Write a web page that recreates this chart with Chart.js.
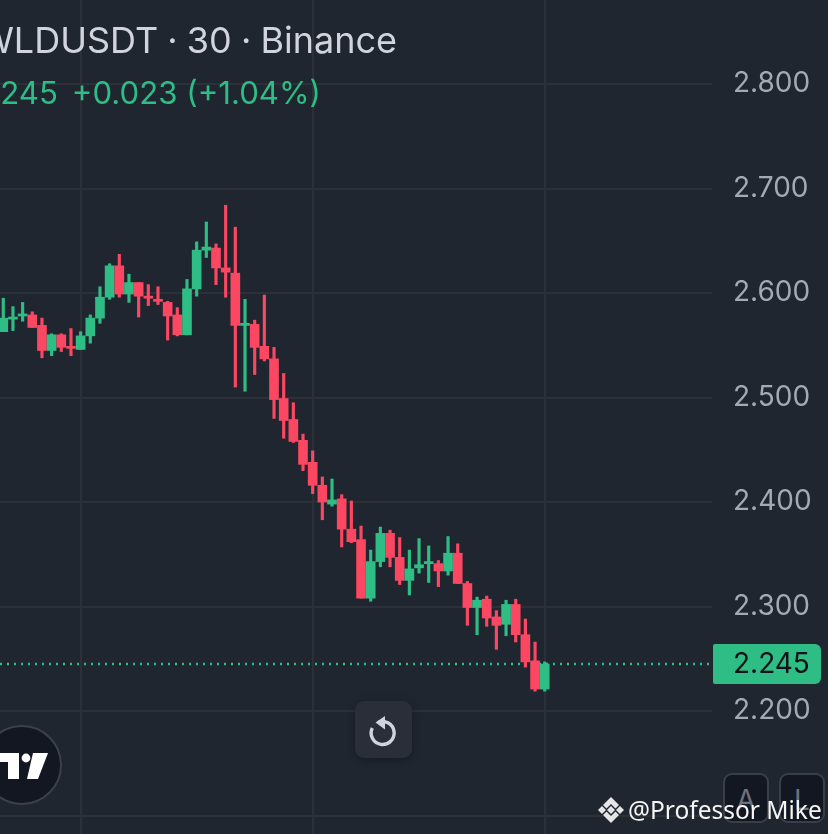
<!DOCTYPE html>
<html>
<head>
<meta charset="utf-8">
<script src="https://cdn.jsdelivr.net/npm/chart.js@4/dist/chart.umd.min.js"></script>
<style>
html,body{margin:0;padding:0;background:#1f2630;width:828px;height:834px;overflow:hidden}
#wrap{position:relative;width:828px;height:834px;overflow:hidden}
canvas{position:absolute;left:0;top:0}
.t{position:absolute;white-space:nowrap;font-family:Inter,sans-serif}
#title{right:431px;top:19px;font-size:36px;line-height:42px;color:#d1d4dc;word-spacing:-1px}
#legend{right:507px;top:75px;font-size:31.2px;line-height:36px;color:#2ebd85}
#legend span{margin-left:14px}
.btn{position:absolute;box-sizing:border-box;background:#131722;border:2px solid #3a3e48;border-radius:9px;top:773px;height:50px;color:#6e727c;font:28px/50px Inter,sans-serif;text-align:center}
#reset{position:absolute;left:355px;top:701px;width:57px;height:57px;border-radius:9px;background:#2a2e39;box-shadow:0 2px 8px rgba(0,0,0,.3)}
#wm{left:628px;top:792px;font-family:"Noto Sans",sans-serif;font-size:24.5px;line-height:36px;color:#f5f5f5}
svg{position:absolute;left:0;top:0}
</style>
</head>
<body>
<div id="wrap">
<canvas id="c" width="828" height="834"></canvas>
<div class="t" id="title">WLDUSDT · 30 · Binance</div>
<div class="t" id="legend">245<span>+0.023</span> (+1.04%)</div>
<div id="reset"></div>
<div class="btn" style="left:723px;width:46px">A</div>
<div class="btn" style="left:779px;width:46px">L</div>
<svg width="828" height="834" viewBox="0 0 828 834">
  <circle cx="22" cy="765" r="39" fill="#131722" stroke="#3c404a" stroke-width="2"/>
  <path d="M0 753H19V779H8V762H0Z" fill="#fff"/>
  <circle cx="26" cy="758" r="4.4" fill="#fff"/>
  <path d="M33 753H48L38 779H27Z" fill="#fff"/>
  <path d="M378 722.5A11.5 11.5 0 1 1 372.3 728" fill="none" stroke="#d1d4dc" stroke-width="3.4"/>
  <path d="M385 716V729.5L375.5 722.5Z" fill="#d1d4dc"/>
  <g fill="#e6e6e6">
    <path d="M611 797L619 805L615.5 808.5L611 804L606.5 808.5L603 805Z"/>
    <path d="M611 823L603 815L606.5 811.5L611 816L615.5 811.5L619 815Z"/>
    <path d="M611 806L615 810L611 814L607 810Z"/>
    <path d="M602 806L606 810L602 814L598 810Z"/>
    <path d="M620 806L624 810L620 814L616 810Z"/>
  </g>
</svg>
<div class="t" id="wm">@Professor Mike</div>
</div>
<script>
const opens  = [2.563,2.575,2.578,2.579,2.569,2.545,2.560,2.549,2.546,2.559,2.576,2.596,2.626,2.599,2.610,2.597,2.594,2.591,2.579,2.560,2.604,2.641,2.643,2.624,2.619,2.569,2.570,2.549,2.537,2.499,2.479,2.459,2.438,2.416,2.398,2.403,2.374,2.364,2.308,2.343,2.370,2.347,2.325,2.337,2.341,2.341,2.334,2.351,2.322,2.299,2.307,2.290,2.283,2.302,2.273,2.248,2.221];
const closes = [2.576,2.577,2.580,2.567,2.545,2.560,2.548,2.547,2.559,2.576,2.596,2.626,2.599,2.610,2.597,2.595,2.592,2.578,2.560,2.604,2.641,2.644,2.624,2.620,2.569,2.571,2.548,2.537,2.498,2.478,2.458,2.436,2.416,2.400,2.402,2.374,2.362,2.308,2.343,2.370,2.347,2.325,2.336,2.340,2.343,2.334,2.351,2.322,2.299,2.306,2.289,2.282,2.302,2.273,2.247,2.221,2.245];
const highs  = [2.595,2.587,2.591,2.582,2.576,2.561,2.561,2.566,2.563,2.579,2.606,2.628,2.637,2.618,2.610,2.608,2.606,2.592,2.586,2.613,2.649,2.668,2.647,2.684,2.663,2.594,2.574,2.598,2.548,2.523,2.495,2.465,2.449,2.424,2.422,2.407,2.401,2.377,2.354,2.376,2.373,2.366,2.354,2.365,2.358,2.344,2.367,2.360,2.324,2.309,2.310,2.296,2.306,2.307,2.288,2.266,2.247];
const lows   = [2.563,2.564,2.573,2.567,2.538,2.540,2.544,2.540,2.546,2.552,2.571,2.594,2.596,2.591,2.577,2.588,2.589,2.555,2.559,2.560,2.597,2.634,2.608,2.596,2.510,2.506,2.522,2.535,2.480,2.461,2.457,2.430,2.408,2.383,2.396,2.357,2.361,2.308,2.305,2.338,2.338,2.321,2.311,2.332,2.323,2.319,2.330,2.322,2.282,2.273,2.281,2.259,2.272,2.266,2.242,2.219,2.219];
const priceTicks = [2.1,2.2,2.3,2.4,2.5,2.6,2.7,2.8];
const dayTicks = [8,32,56];
const lastPrice = 2.245;
const UP = '#2ebd85', DOWN = '#fb4761';

const idx = opens.map((_, i) => i);
const colors = idx.map(i => closes[i] >= opens[i] ? UP : DOWN);
const wicks = idx.map(i => ({x: i, y: [lows[i], highs[i]]}));
const bodies = idx.map(i => ({x: i, y: [opens[i], closes[i]]}));
const X_MIN = -0.34, X_MAX = 73.3;

const badge = {
  id: 'badge',
  afterDatasetsDraw(chart) {
    const ctx = chart.ctx, y = chart.scales.y.getPixelForValue(lastPrice);
    ctx.save();
    ctx.fillStyle = UP;
    ctx.beginPath();
    ctx.roundRect(713, y - 20, 108, 40, [2, 6, 6, 2]);
    ctx.fill();
    ctx.fillStyle = '#0f1218';
    ctx.font = '28px Inter, sans-serif';
    ctx.textAlign = 'left';
    ctx.textBaseline = 'middle';
    ctx.fillText(lastPrice.toFixed(3), 733, y + 1);
    ctx.restore();
  }
};

new Chart(document.getElementById('c'), {
  type: 'bar',
  data: {
    datasets: [
      {data: bodies, backgroundColor: colors, borderColor: colors, barThickness: 9, grouped: false, order: 1, borderSkipped: false},
      {data: wicks, backgroundColor: colors, barThickness: 2.5, grouped: false, order: 2},
      {type: 'line', data: [{x: X_MIN, y: lastPrice}, {x: X_MAX, y: lastPrice}], borderColor: UP, borderWidth: 2.4, borderDash: [2, 5], pointRadius: 0, order: 3}
    ]
  },
  options: {
    responsive: false,
    animation: false,
    layout: {padding: 0},
    plugins: {legend: {display: false}, tooltip: {enabled: false}},
    scales: {
      x: {
        type: 'linear', min: X_MIN, max: X_MAX, offset: false,
        afterBuildTicks(s) { s.ticks = dayTicks.map(v => ({value: v})); },
        afterFit(s) { s.height = 0; s.paddingLeft = s.paddingRight = s.paddingTop = s.paddingBottom = 0; },
        ticks: {display: false},
        border: {display: false},
        grid: {color: '#2b3039', lineWidth: 2, drawTicks: false, offset: false}
      },
      y: {
        position: 'right', min: 2.0823, max: 2.8804,
        afterFit(s) { s.width = 116; s.paddingLeft = s.paddingRight = s.paddingTop = s.paddingBottom = 0; },
        afterBuildTicks(s) { s.ticks = priceTicks.map(v => ({value: v})); },
        ticks: {
          color: '#a6a9b2', font: {family: 'Inter, sans-serif', size: 28}, padding: 21, align: 'center',
          callback: v => v < 2.15 ? '' : v.toFixed(3)
        },
        border: {display: false},
        grid: {color: '#2b3039', lineWidth: 2, drawTicks: false}
      }
    }
  },
  plugins: [badge]
});
</script>
</body>
</html>
